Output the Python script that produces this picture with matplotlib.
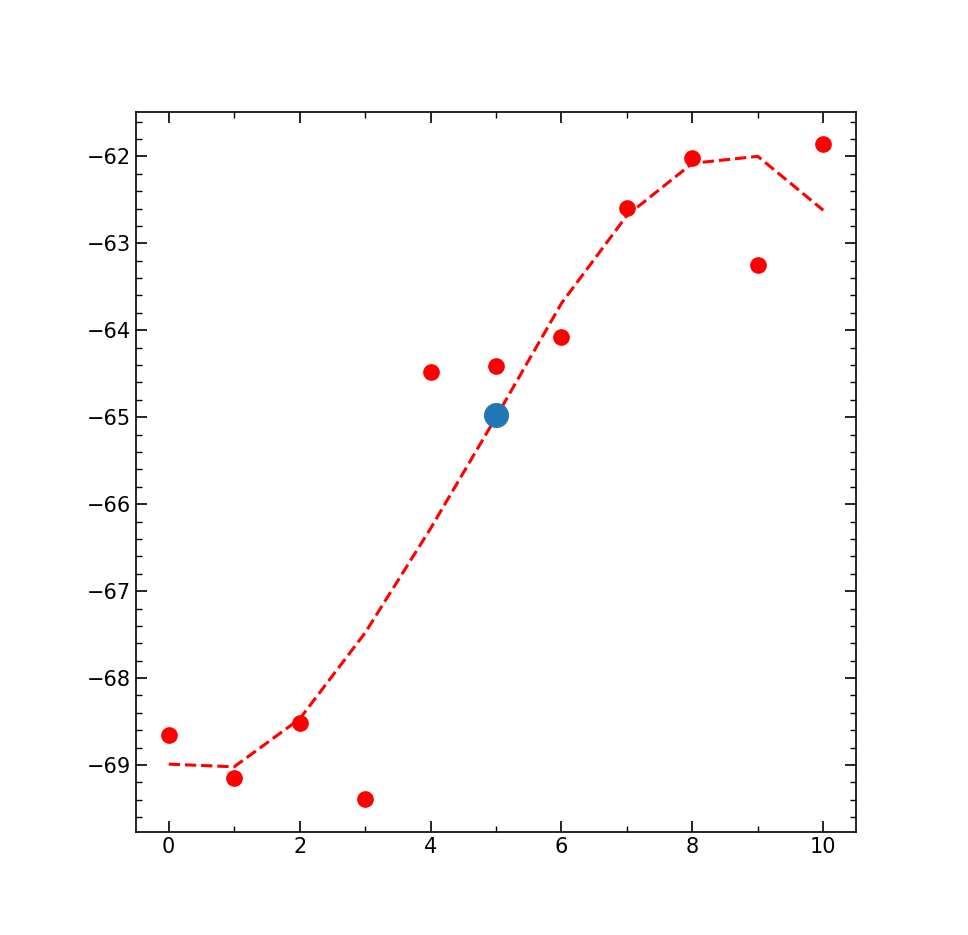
import numpy as np
import matplotlib.pyplot as plt
from matplotlib.ticker import AutoMinorLocator

x = np.arange(11)
obs = [-68.66, -69.15, -68.52, -69.39, -64.48, -64.41, -64.08, -62.59, -62.02, -63.25, -61.86]
fit = [-68.99, -69.02, -68.47, -67.48, -66.28, -65.00, -63.69, -62.68, -62.08, -62.00, -62.62]
best_x, best_y = 5, -64.98

fig = plt.figure(figsize=(9.68, 9.35), dpi=100)
ax = fig.add_axes([136/968, 1 - 832/935, 720/968, 720/935])
ax.plot(x, fit, '--', color='red', lw=2.2)
ax.plot(x, obs, 'o', color='red', ms=11)
ax.plot(best_x, best_y, 'o', color='#1f77b4', ms=17)
ax.set_xlim(-0.5, 10.5)
ax.set_ylim(-69.77, -61.49)
ax.xaxis.set_minor_locator(AutoMinorLocator(2))
ax.yaxis.set_minor_locator(AutoMinorLocator(5))
ax.tick_params(which='both', direction='in', top=True, right=True, labelsize=15)
ax.tick_params(which='major', length=8, width=1.2)
ax.tick_params(which='minor', length=4, width=1)
for s in ax.spines.values():
    s.set_linewidth(1.2)
fig.savefig('out.png')
